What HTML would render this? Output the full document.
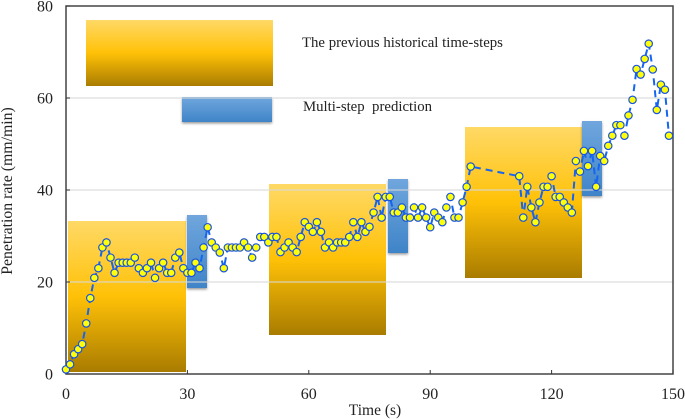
<!DOCTYPE html>
<html>
<head>
<meta charset="utf-8">
<style>
html,body{margin:0;padding:0;background:#fff;}
svg{display:block;font-family:"Liberation Serif",serif;}
</style>
</head>
<body>
<svg id="chart" width="685" height="419" viewBox="0 0 685 419" xmlns="http://www.w3.org/2000/svg">
<defs>
<linearGradient id="gold" x1="0" y1="0" x2="0" y2="1">
<stop offset="0" stop-color="#ffd966"/><stop offset="0.5" stop-color="#ffc107"/><stop offset="1" stop-color="#a97c00"/>
</linearGradient>
<linearGradient id="blue" x1="0" y1="0" x2="0" y2="1">
<stop offset="0" stop-color="#70a6dd"/><stop offset="1" stop-color="#3f84c8"/>
</linearGradient>
<filter id="shadow" x="-20%" y="-10%" width="140%" height="125%"><feDropShadow dx="0" dy="1.5" stdDeviation="1.2" flood-color="#000" flood-opacity="0.4"/></filter>
</defs>
<rect x="86" y="20" width="187" height="66" fill="url(#gold)"/>
<rect x="182" y="97" width="90" height="25" fill="url(#blue)" filter="url(#shadow)"/>
<rect x="68" y="221" width="118" height="151" fill="url(#gold)"/>
<rect x="269" y="184" width="117" height="151" fill="url(#gold)"/>
<rect x="465" y="127" width="117" height="151" fill="url(#gold)"/>
<rect x="187" y="215" width="20" height="73" fill="url(#blue)" filter="url(#shadow)"/>
<rect x="388" y="179" width="20" height="74" fill="url(#blue)" filter="url(#shadow)"/>
<rect x="582" y="121" width="20" height="75" fill="url(#blue)" filter="url(#shadow)"/>
<g id="grid"></g>
<g id="axes"></g>
<g id="series"></g>
<text x="375" y="415" font-size="15.5" text-anchor="middle" fill="#222">Time (s)</text>
<text transform="translate(12,191) rotate(-90)" font-size="15.8" text-anchor="middle" fill="#222">Penetration rate (mm/min)</text>
<text x="302" y="47" font-size="14.8" fill="#222">The previous historical time-steps</text>
<text x="303" y="111" font-size="14.8" fill="#222" xml:space="preserve">Multi-step  prediction</text>
</svg>
<script>
const times = [0,1,2,3,4,5,6,7,8,9,10,11,12,13,14,15,16,17,18,19,20,21,22,23,24,25,26,27,28,29,30,31,32,33,34,35,36,37,38,39,40,41,42,43,44,45,46,47,48,49,50,51,52,53,54,55,56,57,58,59,60,61,62,63,64,65,66,67,68,69,70,71,72,73,74,75,76,77,78,79,80,81,82,83,84,85,86,87,88,89,90,91,92,93,94,95,96,97,98,99,100,112,113,114,115,116,117,118,119,120,121,122,123,124,125,126,127,128,129,130,131,132,133,134,135,136,137,138,139,140,141,142,143,144,145,146,147,148,149];
const rates = [1,2.1,4.3,5.4,6.5,11,16.5,20.9,23,27.5,28.6,25.3,22,24.2,24.2,24.2,24.2,25.3,23,22,23,24.2,20.9,23,24.2,22,22,25.3,26.4,23,22,22,24.2,23,27.5,31.9,28.6,27.5,26.4,23,27.5,27.5,27.5,27.5,28.6,27.5,25.3,27.5,29.8,29.8,28.6,29.8,29.8,26.5,27.5,28.6,27.5,26.5,29.8,33,32,30.9,33,30.9,27.5,28.6,27.5,28.6,28.6,28.6,29.8,33,29.8,33,30.9,32,35.1,38.5,34,38.5,38.5,35.1,35.1,36.2,34,34,36.2,34,36.2,34,31.9,35.1,34,33,36.2,38.5,34,34,37.3,40.7,45.1,43,34,40.7,36.2,33,37.3,40.7,40.7,43,38.5,38.5,37.3,36.2,35.1,46.3,44,48.5,45.2,48.5,40.7,47.4,46.3,49.6,51.8,54.1,54.1,51.8,56.2,59.6,66.3,65.1,68.5,71.8,66.2,57.4,62.9,61.8,51.8];
const xTicks = [0,30,60,90,120,150];
const yTicks = [0,20,40,60,80];
const gridValues = [20,40,60];

const NS = 'http://www.w3.org/2000/svg';
function xScale(v){ return 66 + v * 607 / 150; }
function yScale(v){ return 374 - v * 4.6; }
function make(tag, parent, attrs){
  const el = document.createElementNS(NS, tag);
  for (const k in attrs) el.setAttribute(k, attrs[k]);
  document.getElementById(parent).appendChild(el);
  return el;
}
gridValues.forEach(function(v){
  const g = make('line', 'grid', {x1:xScale(0), x2:xScale(150), y1:yScale(v), y2:yScale(v), stroke:'#d9d9d9', 'stroke-opacity':0.85, 'stroke-width':1.2});
  
  
});
const frame = make('rect', 'axes', {x:xScale(0), y:yScale(80), width:xScale(150)-xScale(0), height:yScale(0)-yScale(80), fill:'none', stroke:'#444', 'stroke-width':1.5});


xTicks.forEach(function(v){
  const t = make('line', 'axes', {x1:xScale(v), x2:xScale(v), y1:yScale(0), y2:yScale(0)-4, stroke:'#333', 'stroke-width':1});
  
  
  const l = make('text', 'axes', {x:xScale(v), y:399, 'font-size':16, 'text-anchor':'middle', fill:'#222'});
  
  
  l.textContent = v;
});
yTicks.forEach(function(v){
  const t = make('line', 'axes', {x1:xScale(0), x2:xScale(0)+4, y1:yScale(v), y2:yScale(v), stroke:'#333', 'stroke-width':1});
  
  
  const l = make('text', 'axes', {x:53, y:yScale(v)+5.5, 'font-size':16, 'text-anchor':'end', fill:'#222'});
  
  
  l.textContent = v;
});
const pts = times.map(function(t, i){ return xScale(t).toFixed(2) + ',' + yScale(rates[i]).toFixed(2); }).join(' ');
const line = make('polyline', 'series', {points:pts, fill:'none', stroke:'#1565ee', 'stroke-width':2, 'stroke-dasharray':'7 5'});


times.forEach(function(t, i){
  const c = make('circle', 'series', {cx:xScale(t), cy:yScale(rates[i]), r:3.7, fill:'#ffff0a', stroke:'#1a55e0', 'stroke-width':1.2});
  
  
});
</script>
</body>
</html>
